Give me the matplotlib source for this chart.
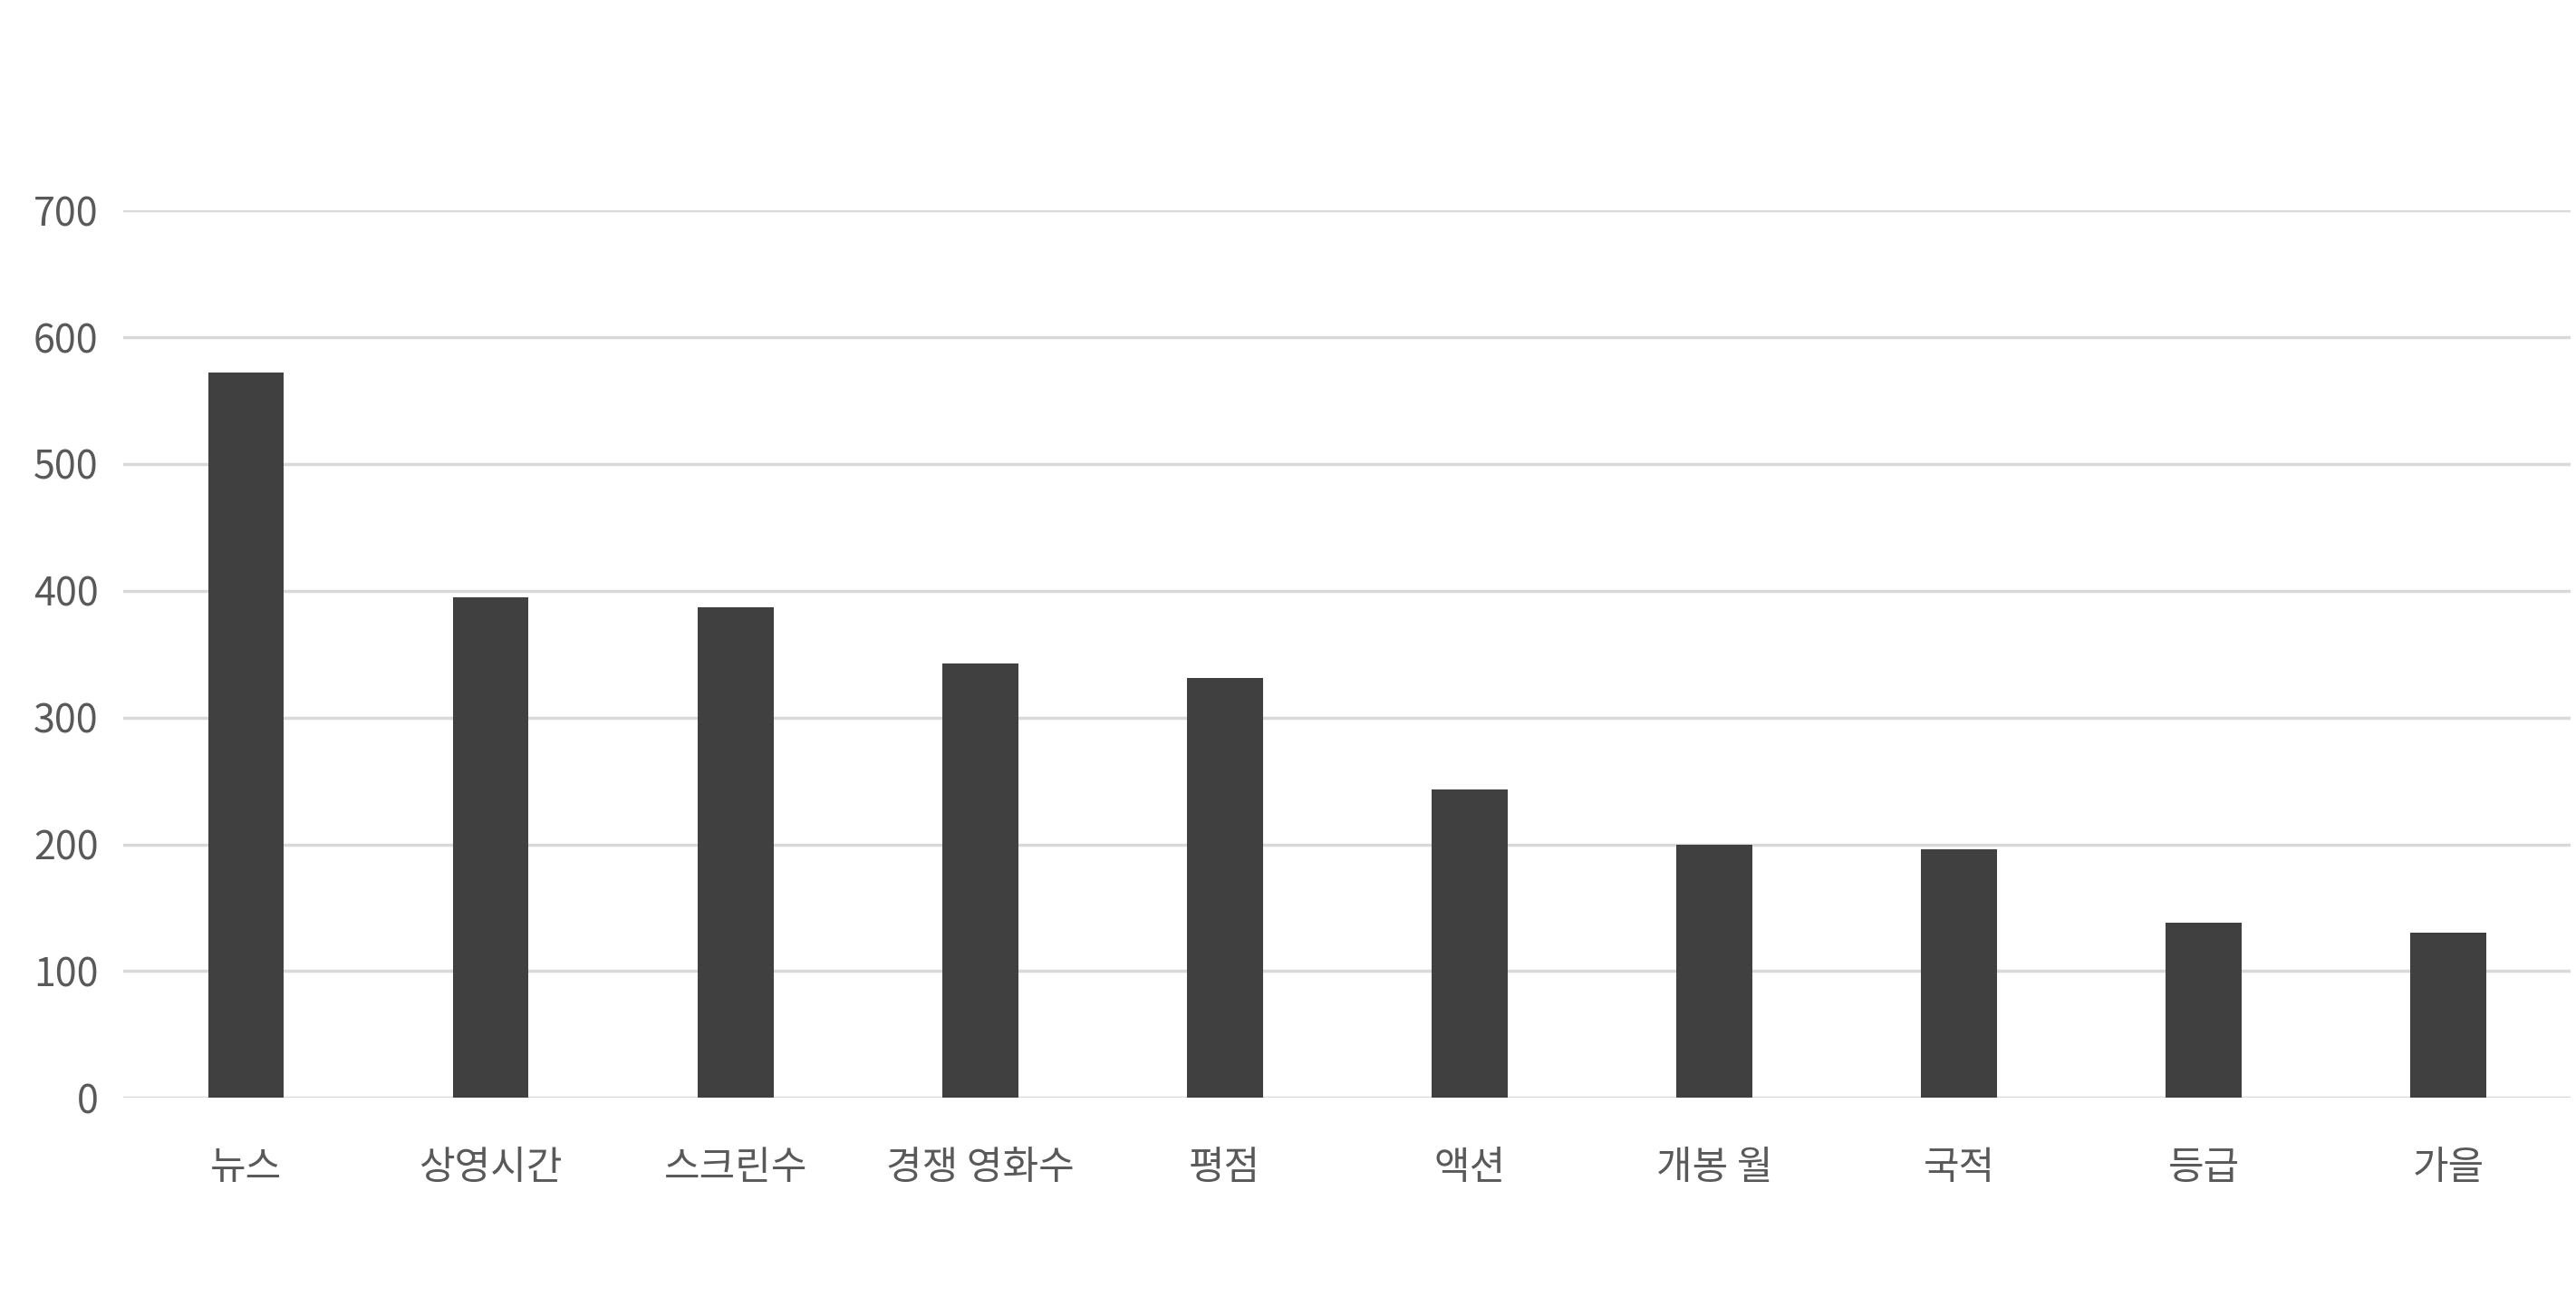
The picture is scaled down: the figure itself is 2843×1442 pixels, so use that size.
import matplotlib
matplotlib.use("Agg")
import matplotlib.pyplot as plt

plt.rcParams['font.family'] = ['Noto Sans CJK KR', 'DejaVu Sans']

categories = ['뉴스', '상영시간', '스크린수', '경쟁 영화수', '평점', '액션', '개봉 월', '국적', '등급', '가을']
values = [572, 395, 387, 343, 331, 243, 200, 196, 138, 130]
yticks = [0, 100, 200, 300, 400, 500, 600, 700]

fig = plt.figure(figsize=(28.43, 14.42), dpi=100)
ax = fig.add_axes([0.048, 0.160, 0.950, 0.679])
ax.bar(range(len(categories)), values, width=0.31, color='#404040', zorder=3)
ax.set_xlim(-0.5, len(categories) - 0.5)
ax.set_ylim(0, 700)
ax.set_yticks(yticks)
ax.set_xticks(range(len(categories)))
ax.set_xticklabels(categories)
ax.grid(axis='y', color='#d9d9d9', linewidth=2.5, zorder=0)
for s in ax.spines.values():
    s.set_visible(False)
ax.tick_params(axis='both', length=0, labelsize=31, colors='#595959', pad=14)
ax.tick_params(axis='x', pad=40)
ax.tick_params(axis='y', pad=20)
fig.savefig('out.png', dpi=100, facecolor='white')
